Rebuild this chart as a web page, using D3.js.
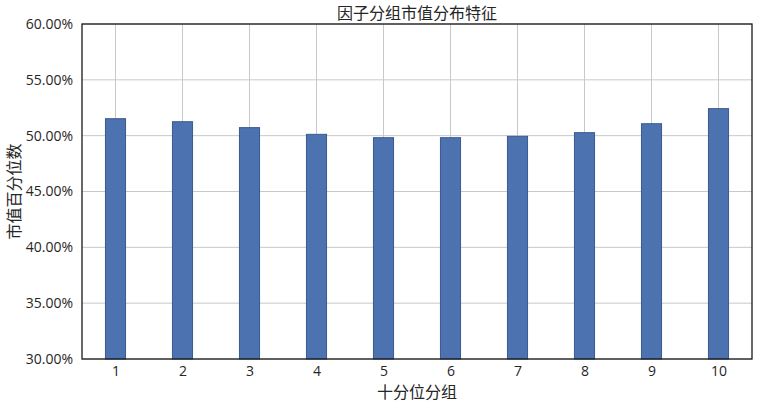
<!DOCTYPE html>
<html>
<head>
<meta charset="utf-8">
<script src="https://cdn.jsdelivr.net/npm/d3@7"></script>
<style>
  body { margin: 0; background: #fff; }
  text { font-family: "Noto Sans CJK SC", "Noto Sans", sans-serif; fill: #262626; }
</style>
</head>
<body>
<div id="chart"></div>
<script>
"use strict"

// DATA
const groups = [1, 2, 3, 4, 5, 6, 7, 8, 9, 10];
const marketCapPct = [51.52, 51.25, 50.72, 50.12, 49.82, 49.82, 49.94, 50.27, 51.07, 52.42];
const yTicks = [30, 35, 40, 45, 50, 55, 60];
const title = "因子分组市值分布特征";
const xLabel = "十分位分组";
const yLabel = "市值百分位数";

/* CHART
 */
const width = 758, height = 409;
const margin = {left: 82, right: 6, top: 24, bottom: 50};
const w = width - margin.left - margin.right;
const h = height - margin.top - margin.bottom;

const svg = d3.select("#chart").append("svg")
    .attr("width", width)
    .attr("height", height);

const chart = svg.append("g")
    .attr("transform", `translate(${margin.left},${margin.top})`);

const x = d3.scaleLinear().domain([0.5, 10.5]).range([0, w]);
const y = d3.scaleLinear().domain([30, 60]).range([h, 0]);
const step = x(2) - x(1);
const barW = step * 0.3;

// grid
chart.append("g").selectAll("line.gx")
    .data(groups).enter().append("line")
    .attr("x1", (d) => x(d)).attr("x2", (d) => x(d))
    .attr("y1", 0).attr("y2", h)
    .style("stroke", "#c8c8c8").style("stroke-width", 1);

chart.append("g").selectAll("line.gy")
    .data(yTicks).enter().append("line")
    .attr("x1", 0).attr("x2", w)
    .attr("y1", (d) => y(d)).attr("y2", (d) => y(d))
    .style("stroke", "#c8c8c8").style("stroke-width", 1);

// bars
chart.selectAll("rect.bar")
    .data(groups).enter().append("rect")
    .attr("class", "bar")
    .attr("x", (d) => x(d) - barW / 2)
    .attr("width", barW)
    .attr("y", (d, i) => y(marketCapPct[i]))
    .attr("height", (d, i) => h - y(marketCapPct[i]))
    .style("fill", "#4c72b0")
    .style("stroke", "#3a5a8f")
    .style("stroke-width", 1);

// axes
const xAxis = chart.append("g")
    .attr("transform", `translate(0,${h})`)
    .call(d3.axisBottom(x).tickValues(groups).tickSize(0).tickPadding(7).tickFormat(d3.format("d")));
const yAxis = chart.append("g")
    .call(d3.axisLeft(y).tickValues(yTicks).tickSize(0).tickPadding(9)
        .tickFormat((d) => d.toFixed(2) + "%"));
[xAxis, yAxis].forEach((a) => {
    a.select(".domain").remove();
    a.selectAll("text")
     .style("font-family", "'Open Sans', sans-serif")
     .style("font-size", "14px")
     .style("fill", "#262626");
});

// frame
chart.append("rect")
    .attr("width", w).attr("height", h)
    .style("fill", "none").style("stroke", "#1a1a1a").style("stroke-width", 1.3);

// labels
svg.append("text")
    .attr("x", margin.left + w / 2).attr("y", 19)
    .attr("text-anchor", "middle")
    .style("font-size", "16px")
    .text(title);

svg.append("text")
    .attr("x", margin.left + w / 2).attr("y", 398)
    .attr("text-anchor", "middle")
    .style("font-size", "16px")
    .text(xLabel);

svg.append("text")
    .attr("transform", `translate(20,${margin.top + h / 2}) rotate(-90)`)
    .attr("text-anchor", "middle")
    .style("font-size", "16px")
    .text(yLabel);
</script>
</body>
</html>
